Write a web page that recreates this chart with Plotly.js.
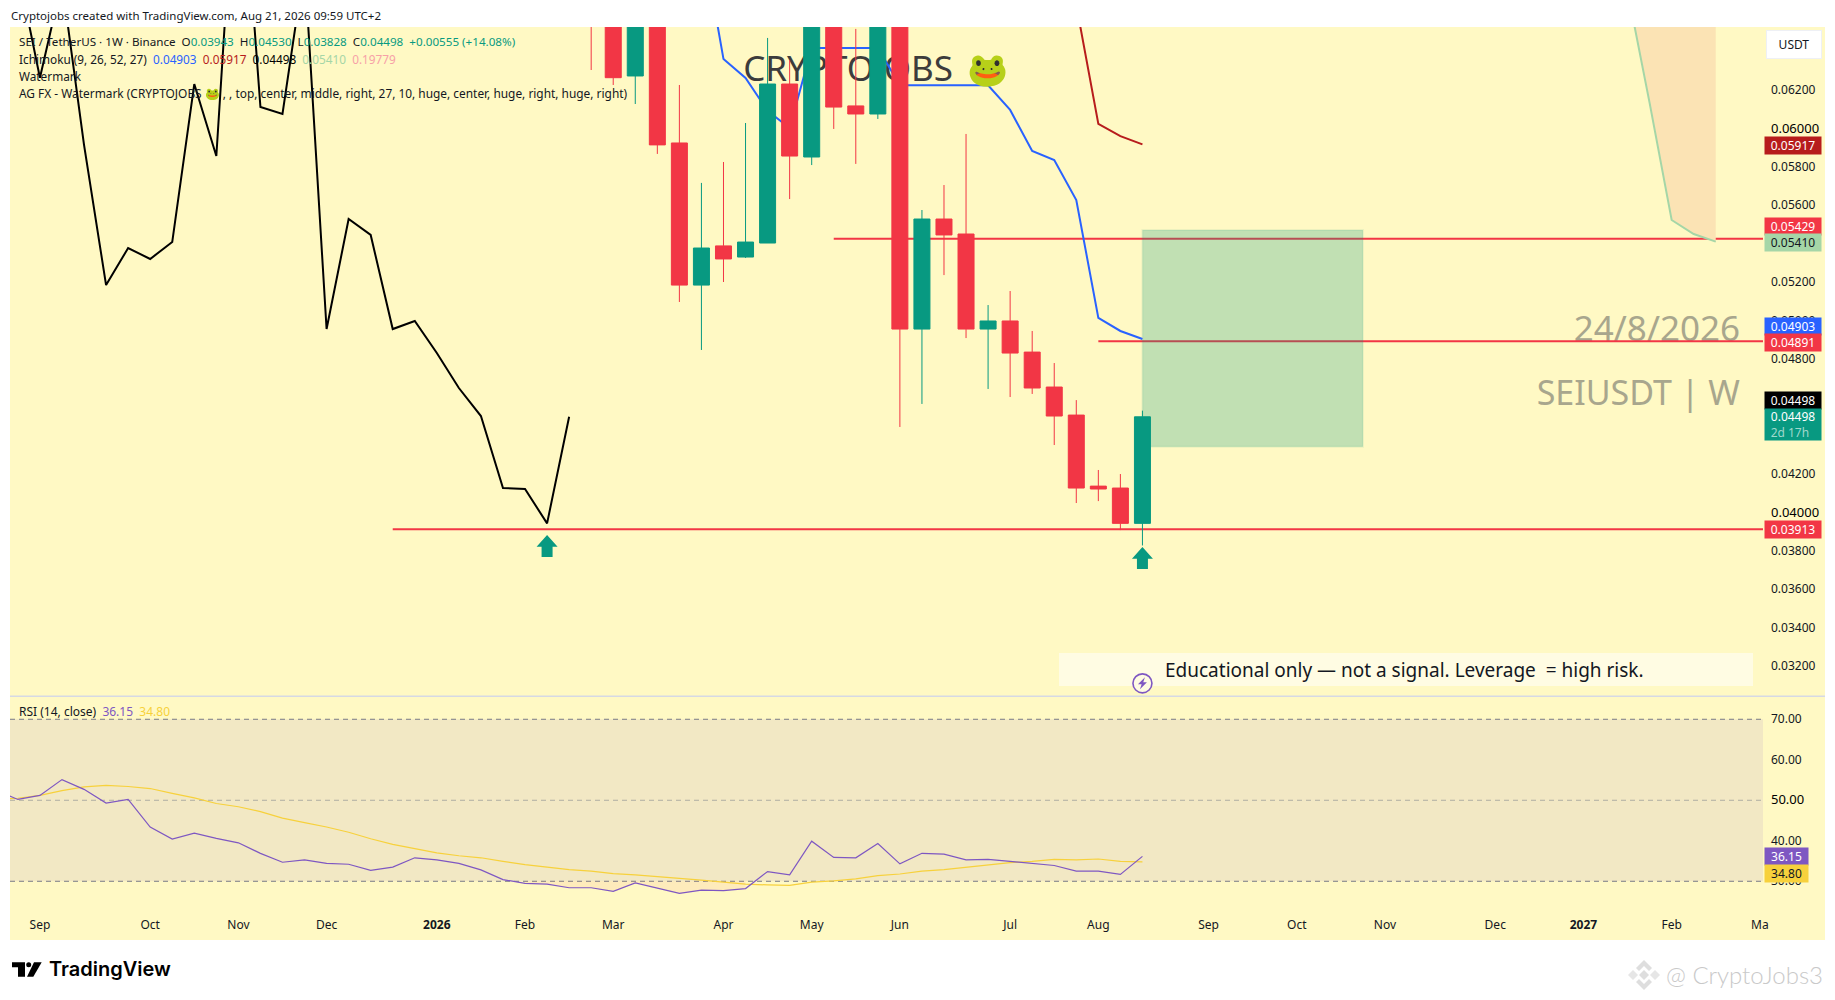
<!DOCTYPE html>
<html>
<head>
<meta charset="utf-8">
<title>SEIUSDT weekly</title>
<script src="https://cdn.plot.ly/plotly-3.0.1.min.js"></script>
<style>
	html, body { margin: 0; padding: 0; background: #ffffff; }
	#chart { width: 1835px; height: 1000px; }
</style>
</head>
<body>
<div id="chart"></div>
<script>
// one date per weekly bar, 53 weeks up to the running candle
var weekDates = ["2025-08-18","2025-08-25","2025-09-01","2025-09-08","2025-09-15","2025-09-22","2025-09-29","2025-10-06","2025-10-13","2025-10-20","2025-10-27","2025-11-03","2025-11-10","2025-11-17","2025-11-24","2025-12-01","2025-12-08","2025-12-15","2025-12-22","2025-12-29","2026-01-05","2026-01-12","2026-01-19","2026-01-26","2026-02-02","2026-02-09","2026-02-16","2026-02-23","2026-03-02","2026-03-09","2026-03-16","2026-03-23","2026-03-30","2026-04-06","2026-04-13","2026-04-20","2026-04-27","2026-05-04","2026-05-11","2026-05-18","2026-05-25","2026-06-01","2026-06-08","2026-06-15","2026-06-22","2026-06-29","2026-07-06","2026-07-13","2026-07-20","2026-07-27","2026-08-03","2026-08-10","2026-08-17"];

// candles, from 2026-02-23 on
var candleDates = weekDates.slice(-26);
var opens = [0.0700,0.06825,0.06273,0.06763,0.05924,0.05184,0.05388,0.05330,0.05403,0.06231,0.05851,0.0765,0.06117,0.06075,0.0684,0.04955,0.05528,0.05450,0.04955,0.04997,0.04835,0.04653,0.04507,0.04137,0.04127,0.03943];
var highs = [0.0712,0.0700,0.0690,0.0688,0.06226,0.05716,0.05825,0.06028,0.06471,0.06356,0.0780,0.0775,0.06518,0.0700,0.0695,0.05575,0.05705,0.05971,0.05080,0.05153,0.04945,0.04778,0.04585,0.04221,0.04200,0.04530];
var lows = [0.06304,0.06226,0.06127,0.05867,0.05096,0.04846,0.05200,0.05325,0.05403,0.05632,0.05809,0.05997,0.05815,0.06049,0.04445,0.04565,0.05236,0.04908,0.04643,0.04601,0.04617,0.04351,0.04049,0.04059,0.03908,0.03828];
var closes = [0.06825,0.06264,0.06763,0.05914,0.05184,0.05377,0.05320,0.05408,0.06231,0.05856,0.07658,0.06111,0.06075,0.06851,0.04955,0.05528,0.05445,0.04955,0.04997,0.04830,0.04648,0.04502,0.04127,0.04122,0.03943,0.04498];

// ichimoku lines
var laggingDates = weekDates.slice(1, 27);
var laggingSpan = [0.06825,0.06264,0.06763,0.05914,0.05184,0.05377,0.05320,0.05408,0.06231,0.05856,0.07658,0.06111,0.06075,0.06851,0.04955,0.05528,0.05445,0.04955,0.04997,0.04830,0.04648,0.04502,0.04127,0.04122,0.03943,0.04498];
var conversionDates = weekDates.slice(-21);
var conversionLine = [0.07012,0.06361,0.06263,0.06091,0.06002,0.06419,0.06419,0.06419,0.06419,0.06224,0.06224,0.06224,0.06224,0.06224,0.06096,0.05882,0.05835,0.05627,0.05013,0.04945,0.04903];
var baseDates = weekDates.slice(-4);
var baseLine = [0.06643,0.06023,0.05960,0.05917];
var leadDates = ["2027-01-18","2027-01-25","2027-02-01","2027-02-08","2027-02-15"];
var leadSpanA = [0.06716,0.06133,0.05523,0.05450,0.05410];
var leadSpanB = [0.19779,0.19779,0.19779,0.19779,0.19779];

// rsi pane
var rsiValues = [52.5,50.2,51.2,55.1,52.7,49.3,50.2,43.4,40.4,41.9,40.6,39.5,36.9,34.7,35.3,34.4,34.2,32.7,33.5,35.8,35.3,34.4,32.8,30.4,29.5,29.3,28.4,28.4,27.5,29.6,28.3,27.0,27.8,27.7,28.2,32.4,31.6,39.9,35.9,35.8,39.3,34.3,36.9,36.7,35.3,35.4,34.9,34.4,33.9,32.5,32.5,31.7,36.15];
var rsiAverage = [50.3,50.5,51.2,52.4,53.3,53.7,53.4,52.9,51.7,50.6,49.2,48.4,47.2,45.6,44.5,43.4,42.1,40.5,39.1,38.1,37.0,36.3,35.8,34.9,34.1,33.5,32.9,32.5,31.9,31.6,31.2,30.7,30.3,29.8,29.3,29.1,29.0,29.8,30.1,30.6,31.4,31.8,32.5,32.9,33.5,34.1,34.6,34.9,35.4,35.3,35.5,34.9,34.80];
// stretch under 30 that gets the faint tint
var oversoldDates = ["2026-02-02","2026-02-09","2026-02-16","2026-02-23","2026-03-02","2026-03-09","2026-03-16","2026-03-23","2026-03-30","2026-04-06","2026-04-13"];
var oversoldValues = [29.5,29.3,28.4,28.4,27.5,29.6,28.3,27.0,27.8,27.7,28.2];
var oversoldLevel = [30,30,30,30,30,30,30,30,30,30,30];

// axes
var xRange = ["2025-08-22 12:00", "2027-03-02"];
var monthTicks = ["2025-09-01","2025-10-06","2025-11-03","2025-12-01","2026-01-05","2026-02-02","2026-03-02","2026-04-06","2026-05-04","2026-06-01","2026-07-06","2026-08-03","2026-09-07","2026-10-05","2026-11-02","2026-12-07","2027-01-04","2027-02-01","2027-03-01"];
var monthLabels = ["Sep","Oct","Nov","Dec","<b>2026</b>","Feb","Mar","Apr","May","Jun","Jul","Aug","Sep","Oct","Nov","Dec","<b>2027</b>","Feb","Ma"];
var priceTicks = [0.032,0.034,0.036,0.038,0.040,0.042,0.044,0.046,0.048,0.050,0.052,0.054,0.056,0.058,0.060,0.062];
var priceLabels = ["0.03200","0.03400","0.03600","0.03800",roundLabel("0.04000"),"0.04200","0.04400","0.04600","0.04800","0.05000","0.05200","0.05400","0.05600","0.05800",roundLabel("0.06000"),"0.06200"];
var rsiTicks = [30,40,50,60,70];
var rsiLabels = ["30.00","40.00",roundLabel("50.00"),"60.00","70.00"];

// drawn levels: price, first bar
var levelPrices = [0.05425,0.04891,0.03913];
var levelStarts = ["2026-05-11","2026-08-03","2025-12-22"];
var boxDates = ["2026-08-17","2026-10-26"];
var boxPrices = [0.04342,0.05471];
var arrowDates = ["2026-02-09","2026-08-17"];
var arrowPrices = [0.03882,0.03820];
var eventDate = "2026-08-17";
var eventPrice = 0.0311;

// price scale labels: text, price, colour, text colour, shift
var tagTexts = ["0.05917","0.05429","0.05410","0.04903","0.04891","0.04498","0.04498<br><span style='color:#9fd8cc'>2d 17h&nbsp;&nbsp;</span>","0.03913"];
var tagPrices = [0.05917,0.05429,0.05410,0.04903,0.04891,0.04498,0.04498,0.03913];
var tagColours = ["#B71C1C","#F23645","#A5D6A7","#2962FF","#F23645","#000000","#089981","#F23645"];
var tagInk = ["#ffffff","#ffffff","#131722","#ffffff","#ffffff","#ffffff","#ffffff","#ffffff"];
var tagShift = [-1,12,-1,13,-1,16,-8,0];

var UP = "#089981";
var DOWN = "#F23645";
var FONT = "Noto Sans, sans-serif";

// round numbers on the scale print a bit larger and darker
function roundLabel(text) { return "<span style='font-size:13px;color:#000000'>" + text + "</span>"; }

// page pixels to paper fractions
function xf(px) { return px / 1835; }
function yf(py) { return 1 - py / 1000; }

// path given in page pixels, stays put whatever the axes do
function pagePath(points, colour) {
	var d = "";
	for (var i = 0; i < points.length; i++) {
		d += (i == 0 ? "M" : "L") + points[i][0] + " " + (-points[i][1]) + " ";
	}
	return {
		type: "path", layer: "above", xref: "paper", yref: "paper",
		xsizemode: "pixel", ysizemode: "pixel", xanchor: 0, yanchor: 1,
		path: d + "Z", fillcolor: colour, line: {width: 0}
	};
}

function pageRect(x0, y0, x1, y1, fill, layer) {
	return {
		type: "rect", layer: layer || "below", xref: "paper", yref: "paper",
		x0: xf(x0), x1: xf(x1), y0: yf(y0), y1: yf(y1),
		fillcolor: fill, line: {width: 0}
	};
}

// big text that sits behind the candles
function watermark(text, x0, x1, yMid, size, colour, align) {
	return {
		type: "rect", layer: "below", xref: "paper", yref: "paper",
		x0: xf(x0), x1: xf(x1), y0: yf(yMid + 25), y1: yf(yMid - 25),
		fillcolor: "rgba(0,0,0,0)", line: {width: 0},
		label: {text: text, textposition: "middle " + align, font: {family: FONT, size: size, color: colour}, padding: 0}
	};
}

function note(text, px, py, size, colour, anchor, weight, family) {
	return {
		xref: "paper", yref: "paper", x: xf(px), y: yf(py), text: text, showarrow: false,
		xanchor: anchor || "left", yanchor: "middle", align: "left",
		font: {family: family || FONT, size: size, color: colour, weight: weight || 400}
	};
}

function colored(text, colour) { return "<span style='color:" + colour + "'>" + text + "</span>"; }

var traces = [
	{x: leadDates, y: leadSpanB, type: "scatter", mode: "lines", line: {width: 0}, xaxis: "x", yaxis: "y"},
	{x: leadDates, y: leadSpanA, type: "scatter", mode: "lines", line: {color: "#A5D6A7", width: 2}, fill: "tonexty", fillcolor: "#FBE3B4", xaxis: "x", yaxis: "y"},
	{x: laggingDates, y: laggingSpan, type: "scatter", mode: "lines", line: {color: "#000000", width: 2}, xaxis: "x", yaxis: "y"},
	{x: conversionDates, y: conversionLine, type: "scatter", mode: "lines", line: {color: "#2962FF", width: 2}, xaxis: "x", yaxis: "y"},
	{x: baseDates, y: baseLine, type: "scatter", mode: "lines", line: {color: "#B71C1C", width: 2}, xaxis: "x", yaxis: "y"},
	{x: oversoldDates, y: oversoldLevel, type: "scatter", mode: "lines", line: {width: 0}, xaxis: "x", yaxis: "y2"},
	{x: oversoldDates, y: oversoldValues, type: "scatter", mode: "lines", line: {width: 0}, fill: "tonexty", fillcolor: "rgba(242,54,69,0.07)", xaxis: "x", yaxis: "y2"},
	{x: weekDates, y: rsiAverage, type: "scatter", mode: "lines", line: {color: "#F7D13C", width: 1.2}, xaxis: "x", yaxis: "y2"},
	{x: weekDates, y: rsiValues, type: "scatter", mode: "lines", line: {color: "#7E57C2", width: 1.2}, xaxis: "x", yaxis: "y2"},
	// candles on an overlay axis, otherwise the lines end up on top of them
	{
		x: candleDates, open: opens, high: highs, low: lows, close: closes, type: "candlestick", xaxis: "x", yaxis: "y3",
		increasing: {line: {color: UP, width: 1}, fillcolor: UP},
		decreasing: {line: {color: DOWN, width: 1}, fillcolor: DOWN}
	}
];

// ---- shapes, order matters for the below layer
var shapes = [];
shapes.push(pageRect(10, 27, 1825, 940, "#FFF9C4"));
shapes.push(watermark("CRYPTOJOBS", 700, 956, 69, 35, "#3c3c3c", "right"));
shapes.push(watermark("24/8/2026", 1500, 1743, 329, 35, "#A8A68D", "right"));
shapes.push(watermark("SEIUSDT | W", 1500, 1743, 394, 34, "#A8A68D", "right"));
shapes.push(pageRect(1059, 653, 1753, 686, "#FFFCE3"));
shapes.push(pageRect(10, 695.5, 1825, 697, "#D6D9E4"));

for (var i = 0; i < levelPrices.length; i++) {
	shapes.push({
		type: "line", layer: "below", xref: "x", yref: "y",
		x0: levelStarts[i], x1: xRange[1], y0: levelPrices[i], y1: levelPrices[i],
		line: {color: DOWN, width: 2}
	});
}

shapes.push({
	type: "rect", layer: "below", xref: "x", yref: "y",
	x0: boxDates[0], x1: boxDates[1], y0: boxPrices[0], y1: boxPrices[1],
	fillcolor: "rgba(8,153,129,0.25)", line: {color: "rgba(8,153,129,0.08)", width: 2}
});

// rsi band and its dashed levels
shapes.push({type: "rect", layer: "below", xref: "x domain", yref: "y2", x0: 0, x1: 1, y0: 30, y1: 70, fillcolor: "rgba(126,87,194,0.1)", line: {width: 0}});
shapes.push({type: "line", layer: "below", xref: "x domain", yref: "y2", x0: 0, x1: 1, y0: 70, y1: 70, line: {color: "#787B86", width: 1, dash: "5px,4px"}});
shapes.push({type: "line", layer: "below", xref: "x domain", yref: "y2", x0: 0, x1: 1, y0: 50, y1: 50, line: {color: "rgba(120,123,134,0.55)", width: 1, dash: "5px,4px"}});
shapes.push({type: "line", layer: "below", xref: "x domain", yref: "y2", x0: 0, x1: 1, y0: 30, y1: 30, line: {color: "#787B86", width: 1, dash: "5px,4px"}});

// up arrows under the two lows
for (var a = 0; a < arrowDates.length; a++) {
	shapes.push({
		type: "path", layer: "above", xref: "x", yref: "y",
		xsizemode: "pixel", ysizemode: "pixel", xanchor: arrowDates[a], yanchor: arrowPrices[a],
		path: "M0 0 L10.5 -11.7 L5.5 -11.7 L5.5 -22 L-5.5 -22 L-5.5 -11.7 L-10.5 -11.7 Z",
		fillcolor: UP, line: {width: 0}
	});
}

// event badge with the bolt under the last candle
shapes.push({
	type: "circle", layer: "above", xref: "x", yref: "y",
	xsizemode: "pixel", ysizemode: "pixel", xanchor: eventDate, yanchor: eventPrice,
	x0: -9.5, x1: 9.5, y0: -9.5, y1: 9.5,
	fillcolor: "#FFFCE3", line: {color: "#7E57C2", width: 1.6}
});
shapes.push({
	type: "path", layer: "above", xref: "x", yref: "y",
	xsizemode: "pixel", ysizemode: "pixel", xanchor: eventDate, yanchor: eventPrice,
	path: "M2.5 6 L-4.5 -1 L-0.8 -1 L-2.5 -6 L4.5 1 L0.8 1 Z",
	fillcolor: "#7E57C2", line: {width: 0}
});

// tradingview logo
shapes.push(pagePath([[12,962.3],[25,962.3],[25,976.7],[18,976.7],[18,967.3],[12,967.3]], "#000000"));
shapes.push(pagePath([[34,962.3],[41.7,962.3],[33.3,976.7],[27,976.7]], "#000000"));
shapes.push({type: "circle", layer: "above", xref: "paper", yref: "paper", x0: xf(26.2), x1: xf(31.2), y0: yf(967.2), y1: yf(962.2), fillcolor: "#000000", line: {width: 0}});

// binance tiles in the corner
shapes.push(pagePath([[1644,960],[1652,968],[1649,971],[1644,966],[1639,971],[1636,968]], "#DEDEDE"));
shapes.push(pagePath([[1644,990],[1652,982],[1649,979],[1644,984],[1639,979],[1636,982]], "#DEDEDE"));
shapes.push(pagePath([[1644,970],[1649,975],[1644,980],[1639,975]], "#DEDEDE"));
shapes.push(pagePath([[1633,970],[1638,975],[1633,980],[1628,975]], "#E6E6E6"));
shapes.push(pagePath([[1655,970],[1660,975],[1655,980],[1650,975]], "#E6E6E6"));

// ---- annotations
var annotations = [];
annotations.push(note("Cryptojobs created with TradingView.com, Aug 21, 2026 09:59 UTC+2", 9, 15, 11.5, "#131722"));

annotations.push(note("SEI / TetherUS · 1W · Binance  O" + colored("0.03943", UP) + "  H" + colored("0.04530", UP) + "  L" + colored("0.03828", UP) + "  C" + colored("0.04498", UP) + "  " + colored("+0.00555 (+14.08%)", UP), 16.5, 41.7, 11.65, "#131722"));
annotations.push(note("Ichimoku (9, 26, 52, 27)  " + colored("0.04903", "#2962FF") + "  " + colored("0.05917", "#B71C1C") + "  " + colored("0.04498", "#000000") + "  " + colored("0.05410", "#A5D6A7") + "  " + colored("0.19779", "#F7A1A8"), 16.5, 58.7, 11.8, "#131722"));
annotations.push(note("Watermark", 16.5, 75.7, 11.8, "#131722"));
annotations.push(note("AG FX - Watermark (CRYPTOJOBS 🐸 , , top, center, middle, right, 27, 10, huge, center, huge, right, huge, right)", 16.5, 92.7, 11.9, "#131722"));
annotations.push(note("RSI (14, close)  " + colored("36.15", "#7E57C2") + "  " + colored("34.80", "#F7D13C"), 16.5, 711.7, 12, "#131722"));

annotations.push(note("🐸", 988, 69, 33, "#000000", "center"));
annotations.push(note("Educational only — not a signal. Leverage  = high risk.", 1163, 670, 19, "#131722"));
annotations.push(note("TradingView", 46.5, 968.5, 20, "#000000", "left", 600, "Inter, sans-serif"));
annotations.push(note("@ CryptoJobs3", 1664, 974, 24, "#C9C9C9", "left", 300, "Lato, sans-serif"));

annotations.push({
	xref: "x domain", yref: "paper", x: 1, y: yf(44), xshift: 3, text: "USDT", showarrow: false,
	xanchor: "left", yanchor: "middle", width: 52, height: 25, bgcolor: "#ffffff", bordercolor: "#EEF0F5", borderwidth: 1,
	font: {family: FONT, size: 12, color: "#131722"}
});

for (var t = 0; t < tagTexts.length; t++) {
	annotations.push({
		xref: "x domain", yref: "y", x: 1, y: tagPrices[t], xshift: 1, yshift: tagShift[t],
		text: tagTexts[t], showarrow: false, xanchor: "left", yanchor: "middle",
		width: 56, height: t == 6 ? 31 : 17, borderpad: 0, bgcolor: tagColours[t],
		font: {family: FONT, size: 12, color: tagInk[t]}
	});
}
annotations.push({xref: "x domain", yref: "y2", x: 1, y: 36.15, xshift: 1, yshift: 0, text: "36.15", showarrow: false, xanchor: "left", yanchor: "middle", width: 43, height: 17, borderpad: 0, bgcolor: "#7E57C2", font: {family: FONT, size: 12, color: "#ffffff"}});
annotations.push({xref: "x domain", yref: "y2", x: 1, y: 34.80, xshift: 1, yshift: -11.6, text: "34.80", showarrow: false, xanchor: "left", yanchor: "middle", width: 43, height: 17, borderpad: 0, bgcolor: "#F7D13C", font: {family: FONT, size: 12, color: "#131722"}});

var layout = {
	width: 1835,
	height: 1000,
	autosize: false,
	margin: {l: 0, r: 0, t: 0, b: 0, pad: 0},
	paper_bgcolor: "#ffffff",
	plot_bgcolor: "rgba(0,0,0,0)",
	showlegend: false,
	hovermode: false,
	boxgap: 0.274,
	boxgroupgap: 0,
	xaxis: {
		type: "date", domain: [xf(10), xf(1763)], range: xRange, anchor: "y2",
		tickmode: "array", tickvals: monthTicks, ticktext: monthLabels, ticks: "", ticklabelstandoff: 8,
		showgrid: false, zeroline: false, showline: false,
		rangeslider: {visible: false},
		tickfont: {family: FONT, size: 12, color: "#131722"}
	},
	yaxis: {
		domain: [yf(696), yf(27)], range: [0.03044, 0.06528], side: "right", anchor: "x",
		tickmode: "array", tickvals: priceTicks, ticktext: priceLabels, ticks: "", ticklabelstandoff: 7,
		showgrid: false, zeroline: false, showline: false,
		tickfont: {family: FONT, size: 12, color: "#131722"}
	},
	yaxis3: {
		overlaying: "y", range: [0.03044, 0.06528], side: "right", visible: false, showgrid: false, zeroline: false
	},
	yaxis2: {
		domain: [yf(908), yf(697)], range: [23.4, 75.5], side: "right", anchor: "x",
		tickmode: "array", tickvals: rsiTicks, ticktext: rsiLabels, ticks: "", ticklabelstandoff: 7,
		showgrid: false, zeroline: false, showline: false,
		tickfont: {family: FONT, size: 12, color: "#131722"}
	},
	shapes: shapes,
	annotations: annotations
};

Plotly.newPlot("chart", traces, layout, {displayModeBar: false, staticPlot: true});
</script>
</body>
</html>
